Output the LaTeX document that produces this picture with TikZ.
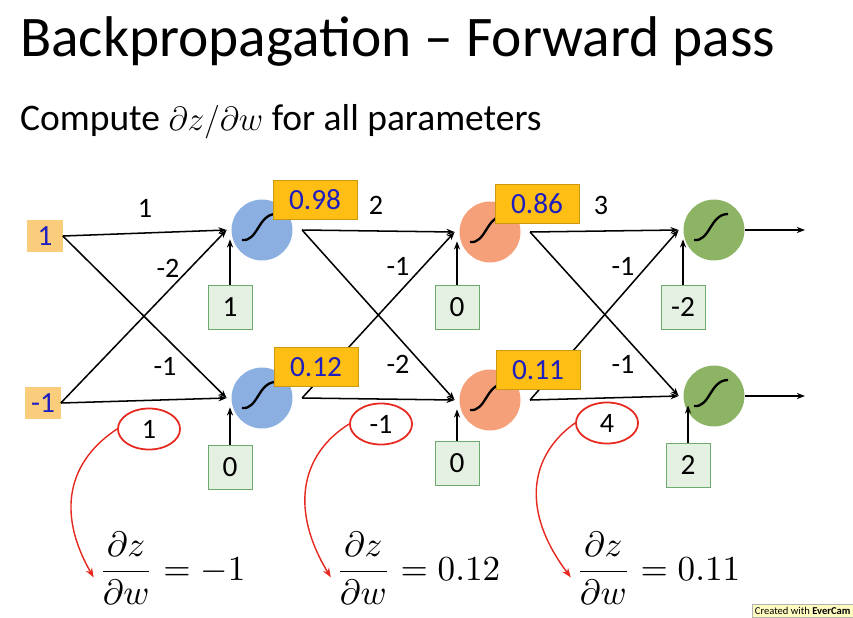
\documentclass[tikz,border=0pt]{standalone}
\usepackage{amsmath}
\usepackage{fontspec}
\setmainfont{Carlito}
\usetikzlibrary{arrows.meta,shapes.geometric}
\definecolor{inbox}{RGB}{250,205,125}
\definecolor{outbox}{RGB}{255,190,20}
\definecolor{biasfill}{RGB}{228,240,225}
\definecolor{biasline}{RGB}{110,170,110}
\definecolor{neublue}{RGB}{140,175,225}
\definecolor{neuorange}{RGB}{245,160,120}
\definecolor{neugreen}{RGB}{140,180,100}
\definecolor{numblue}{RGB}{30,30,190}
\definecolor{mark}{RGB}{230,40,30}
\newcommand{\pdw}[1]{\scalebox{3}{$\dfrac{\partial z}{\partial w}=#1$}}
\begin{document}
\begin{tikzpicture}[x=0.03cm,y=-0.03cm]
    % Node styles
    \tikzstyle{input} = [fill=inbox, text=numblue, font=\fontsize{25}{27}\selectfont, inner sep=1pt, minimum width=30, minimum height=28]
    \tikzstyle{neuron} = [circle, draw=none, minimum size=52]
    \tikzstyle{bias} = [rectangle, draw=biasline, fill=biasfill, font=\fontsize{25}{27}\selectfont, minimum width=38, minimum height=38]
    \tikzstyle{value} = [fill=outbox, draw=outbox!80!black, text=numblue, font=\fontsize{25}{27}\selectfont, minimum width=72, minimum height=33]
    \tikzstyle{weight} = [font=\fontsize{24}{26}\selectfont]
    \tikzstyle{circled} = [ellipse, draw=mark, line width=1.5pt, minimum width=53, minimum height=35, inner sep=0pt, font=\fontsize{24}{26}\selectfont]
    \tikzstyle{arrow} = [-{Stealth[length=7pt]}, line width=1.3pt]
    \tikzstyle{pointer} = [-{Stealth[length=8pt]}, draw=mark, line width=1.2pt]
    \tikzstyle{frac} = [inner sep=2pt]

    \useasboundingbox (0,0) rectangle (853,617);

    % Titles
    \node[anchor=west, font=\fontsize{49}{52}\selectfont] (title) at (16,42) {Backpropagation -- Forward pass};
    \node[anchor=west, font=\fontsize{32}{34}\selectfont] (sub) at (16,122) {Compute \scalebox{1.15}{$\partial z/\partial w$} for all parameters};

    % Inputs
    \node[input] (x1) at (45,236) {1};
    \node[input] (x2) at (43,403) {-1};

    % Neurons
    \foreach \name/\x/\y/\col in {a1/262/230/neublue, a2/262/398/neublue,
        b1/490/232/neuorange, b2/490/400/neuorange, c1/714/230/neugreen, c2/714/396/neugreen} {
        \node[neuron, fill=\col] (\name) at (\x,\y) {};
        \draw[line width=2pt] ([shift={(-20,10)}]\name.center) .. controls ([shift={(-4,12)}]\name.center) and ([shift={(-4,-16)}]\name.center) .. ([shift={(14,-16)}]\name.center);
    }

    % Biases
    \node[bias] (ba1) at (230,307) {1};
    \node[bias] (ba2) at (230,467) {0};
    \node[bias] (bb1) at (457,307) {0};
    \node[bias] (bb2) at (457,463) {0};
    \node[bias] (bc1) at (683,307) {-2};
    \node[bias] (bc2) at (688,465) {2};
    \foreach \b/\n in {ba1/a1, ba2/a2, bb1/b1, bb2/b2, bc1/c1, bc2/c2}
        \draw[arrow] (\b.north) -- ([yshift=-8]\b.north |- \n.west);

    % Connections
    \coordinate (ea1) at ([xshift=8]a1.east);
    \coordinate (ea2) at ([xshift=8]a2.east);
    \coordinate (eb1) at ([xshift=8]b1.east);
    \coordinate (eb2) at ([xshift=8]b2.east);
    \coordinate (y1) at (805,230);
    \coordinate (y2) at (805,396);
    \foreach \s/\t in {x1/a1, x1/a2, x2/a1, x2/a2}
        \draw[arrow] (\s.east) -- ([xshift=-4]\t.west);
    \foreach \s/\t in {ea1/b1, ea1/b2, ea2/b1, ea2/b2, eb1/c1, eb1/c2, eb2/c1, eb2/c2}
        \draw[arrow] (\s) -- ([xshift=-4]\t.west);
    \draw[arrow] (c1.east) -- (y1);
    \draw[arrow] (c2.east) -- (y2);

    % Outputs
    \node[value] (va1) at (315,200) {0.98};
    \node[value] (va2) at (316,367) {0.12};
    \node[value] (vb1) at (537,204) {0.86};
    \node[value] (vb2) at (538,370) {0.11};

    % Weights
    \node[weight] (w1) at (145,208) {1};
    \node[weight] (w2) at (168,268) {-2};
    \node[weight] (w3) at (165,366) {-1};
    \node[weight] (w4) at (376,205) {2};
    \node[weight] (w5) at (398,266) {-1};
    \node[weight] (w6) at (398,364) {-2};
    \node[weight] (w7) at (601,205) {3};
    \node[weight] (w8) at (623,266) {-1};
    \node[weight] (w9) at (623,364) {-1};

    % Marks
    \node[circled] (m1) at (149,429) {1};
    \node[circled] (m2) at (381,424) {-1};
    \node[circled] (m3) at (607,423) {4};
    \node[frac] (d1) at (172,568) {\pdw{-1}};
    \node[frac] (d2) at (418,568) {\pdw{0.12}};
    \node[frac] (d3) at (658,568) {\pdw{0.11}};
    \draw[pointer] (m1.west) .. controls (70,460) and (55,510) .. ([xshift=-2,yshift=-8]d1.west);
    \draw[pointer] (m2.west) .. controls (300,455) and (290,510) .. ([xshift=-2,yshift=-8]d2.west);
    \draw[pointer] (m3.west) .. controls (530,455) and (520,510) .. ([xshift=-2,yshift=-8]d3.west);

    % Watermark
    \node[fill=yellow!25, draw=gray!60, anchor=south east, font=\fontsize{9}{10}\selectfont, inner sep=2pt] (wm) at (853,617) {Created with \textbf{EverCam}};
\end{tikzpicture}
\end{document}
